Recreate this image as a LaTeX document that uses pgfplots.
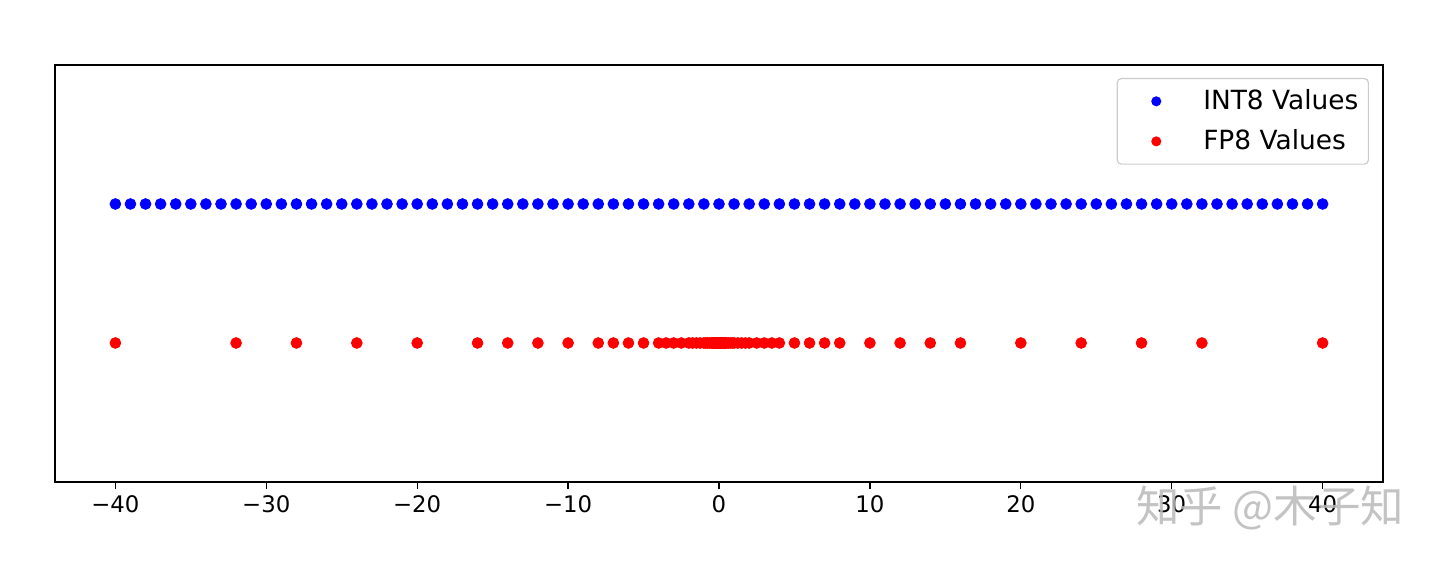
\documentclass[border=0pt]{standalone}
\usepackage{fontspec}
\setmainfont{DejaVu Sans}
\newfontfamily\cjk{Noto Sans CJK SC}
\usepackage{pgfplots}
\usepackage{pgfplotstable}
\pgfplotsset{compat=1.18}
\pgfplotstableread{
x y
-40 1
-39 1
-38 1
-37 1
-36 1
-35 1
-34 1
-33 1
-32 1
-31 1
-30 1
-29 1
-28 1
-27 1
-26 1
-25 1
-24 1
-23 1
-22 1
-21 1
-20 1
-19 1
-18 1
-17 1
-16 1
-15 1
-14 1
-13 1
-12 1
-11 1
-10 1
-9 1
-8 1
-7 1
-6 1
-5 1
-4 1
-3 1
-2 1
-1 1
0 1
1 1
2 1
3 1
4 1
5 1
6 1
7 1
8 1
9 1
10 1
11 1
12 1
13 1
14 1
15 1
16 1
17 1
18 1
19 1
20 1
21 1
22 1
23 1
24 1
25 1
26 1
27 1
28 1
29 1
30 1
31 1
32 1
33 1
34 1
35 1
36 1
37 1
38 1
39 1
40 1
}\intdata
\pgfplotstableread{
x y
-40 0
-32 0
-28 0
-24 0
-20 0
-16 0
-14 0
-12 0
-10 0
-8 0
-7 0
-6 0
-5 0
-4 0
-3.5 0
-3 0
-2.5 0
-2 0
-1.75 0
-1.5 0
-1.25 0
-1 0
-0.875 0
-0.75 0
-0.625 0
-0.5 0
-0.4375 0
-0.375 0
-0.3125 0
-0.25 0
-0.21875 0
-0.1875 0
-0.15625 0
-0.125 0
-0.109375 0
-0.09375 0
-0.078125 0
-0.0625 0
0 0
0.0625 0
0.078125 0
0.09375 0
0.109375 0
0.125 0
0.15625 0
0.1875 0
0.21875 0
0.25 0
0.3125 0
0.375 0
0.4375 0
0.5 0
0.625 0
0.75 0
0.875 0
1 0
1.25 0
1.5 0
1.75 0
2 0
2.5 0
3 0
3.5 0
4 0
5 0
6 0
7 0
8 0
10 0
12 0
14 0
16 0
20 0
24 0
28 0
32 0
40 0
}\fpdata
\begin{document}
\begin{tikzpicture}
\useasboundingbox (0,0) rectangle (720pt,282.5pt);
\begin{axis}[
  at={(27.5pt,41.5pt)}, anchor=south west,
  width=664pt, height=208.5pt, scale only axis,
  xmin=-44, xmax=44, ymin=-1, ymax=2,
  ytick=\empty,
  xtick={-40,-30,-20,-10,0,10,20,30,40},
  xticklabels={−40,−30,−20,−10,0,10,20,30,40},
  tick align=outside, xtick pos=lower,
  major tick length=3.5pt,
  axis line style={line width=0.6pt},
  tick style={line width=0.6pt, black},
  ticklabel style={font=\fontsize{11.4}{13}\selectfont},
  legend cell align=left,
  legend style={at={(1,1)}, anchor=north east, xshift=-7pt, yshift=-6.5pt,
    draw=black!20, rounded corners=2pt, line width=0.6pt,
    font=\fontsize{13.2}{15}\selectfont, row sep=4.5pt,
    inner xsep=3pt, inner ysep=3.6pt},
  legend image code/.code={\draw[#1, mark size=2.2pt] plot coordinates {(0pt,0pt)}; \path[draw=none, fill=none] (-16.5pt,-3pt) rectangle (21.5pt,3pt);},
]
\addplot[only marks, mark=*, mark size=2.7pt, color=blue, fill=blue] table {\intdata};
\addlegendentry{INT8 Values}
\addplot[only marks, mark=*, mark size=2.7pt, color=red, fill=red] table {\fpdata};
\addlegendentry{FP8 Values}
\end{axis}
\node[text=gray!55, opacity=0.85, font=\cjk\fontsize{21.7}{24}\selectfont] at (635pt,28.5pt) {知乎 @木子知};
\end{tikzpicture}
\end{document}
